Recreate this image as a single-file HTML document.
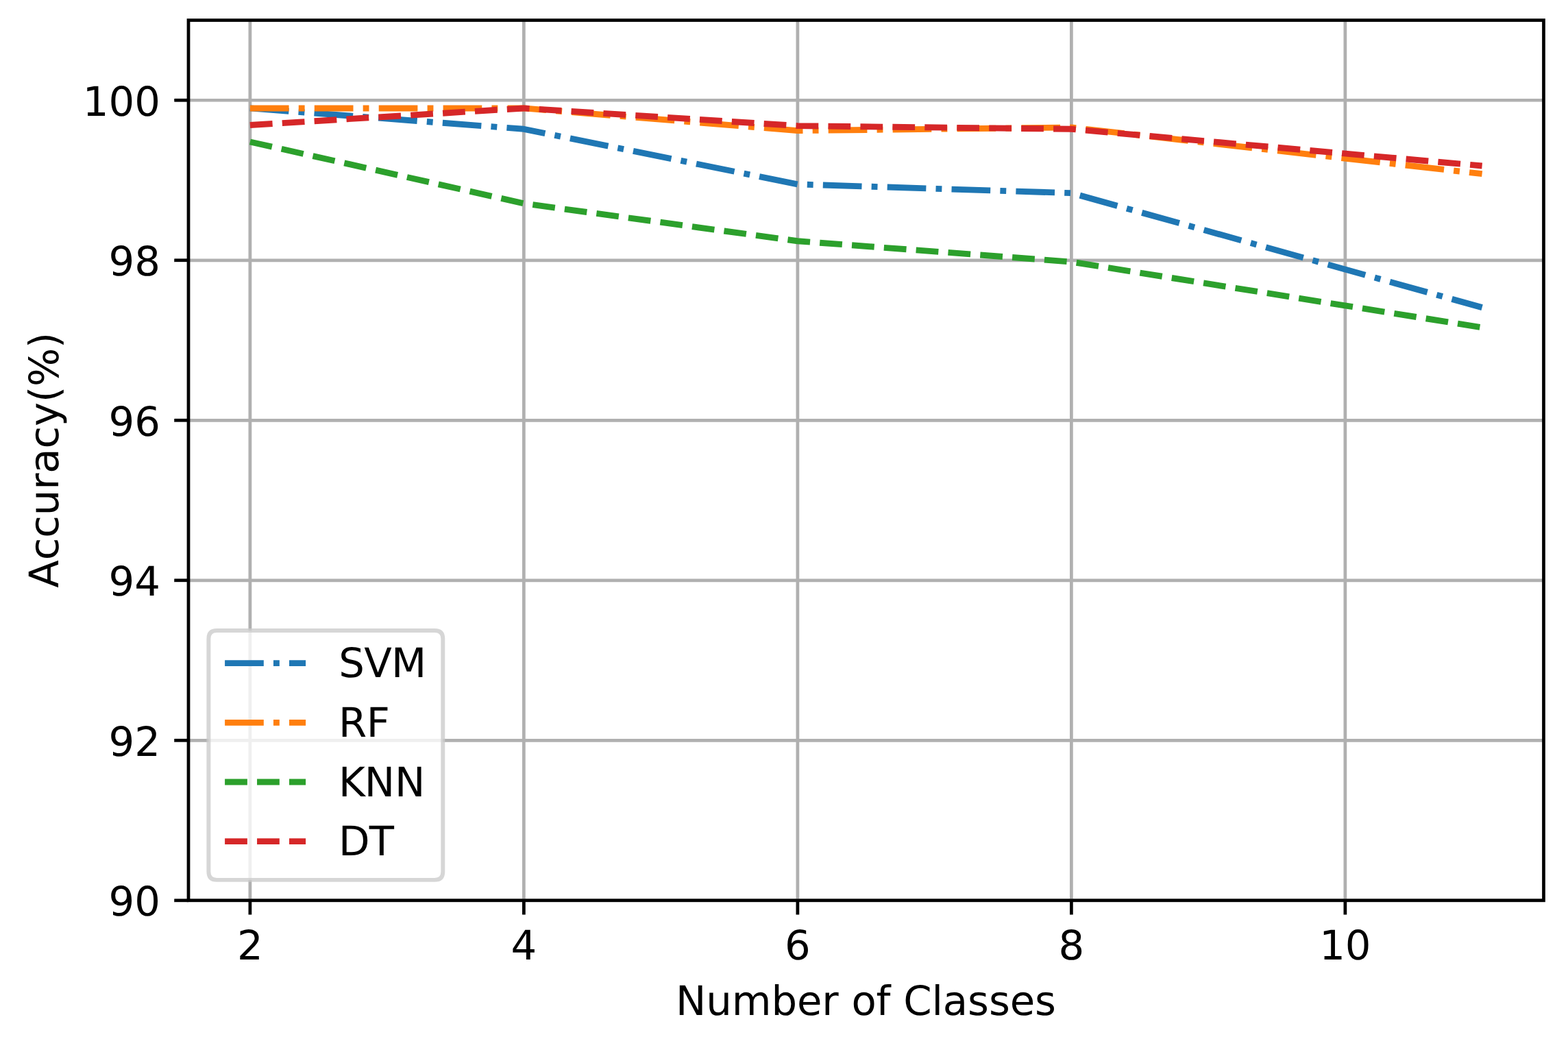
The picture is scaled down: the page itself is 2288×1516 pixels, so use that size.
<!DOCTYPE html>
<html lang="en"><head><meta charset="utf-8"><title>Accuracy vs Number of Classes</title>
<style>
html,body{margin:0;padding:0;background:#fff;}
body{width:2288px;height:1516px;overflow:hidden;}
svg{display:block;}
text{font-family:"DejaVu Sans","Liberation Sans",sans-serif;font-size:59.3px;fill:#000;font-kerning:none;text-rendering:geometricPrecision;}
</style></head><body>
<svg width="2288" height="1516" viewBox="0 0 2288 1516">
<rect x="0" y="0" width="2288" height="1516" fill="#ffffff"/>
<defs><clipPath id="axclip"><rect x="275.00" y="29.50" width="1977.50" height="1284.30"/></clipPath></defs>
<g stroke="#b0b0b0" stroke-width="4.744" fill="none" clip-path="url(#axclip)">
<line x1="364.89" y1="29.50" x2="364.89" y2="1313.80"/>
<line x1="764.38" y1="29.50" x2="764.38" y2="1313.80"/>
<line x1="1163.88" y1="29.50" x2="1163.88" y2="1313.80"/>
<line x1="1563.37" y1="29.50" x2="1563.37" y2="1313.80"/>
<line x1="1962.87" y1="29.50" x2="1962.87" y2="1313.80"/>
<line x1="275.00" y1="1313.80" x2="2252.50" y2="1313.80"/>
<line x1="275.00" y1="1080.29" x2="2252.50" y2="1080.29"/>
<line x1="275.00" y1="846.78" x2="2252.50" y2="846.78"/>
<line x1="275.00" y1="613.27" x2="2252.50" y2="613.27"/>
<line x1="275.00" y1="379.76" x2="2252.50" y2="379.76"/>
<line x1="275.00" y1="146.25" x2="2252.50" y2="146.25"/>
</g>
<g stroke="#000" stroke-width="4.744" fill="none">
<line x1="364.89" y1="1313.80" x2="364.89" y2="1334.56"/>
<line x1="764.38" y1="1313.80" x2="764.38" y2="1334.56"/>
<line x1="1163.88" y1="1313.80" x2="1163.88" y2="1334.56"/>
<line x1="1563.37" y1="1313.80" x2="1563.37" y2="1334.56"/>
<line x1="1962.87" y1="1313.80" x2="1962.87" y2="1334.56"/>
<line x1="254.25" y1="1313.80" x2="275.00" y2="1313.80"/>
<line x1="254.25" y1="1080.29" x2="275.00" y2="1080.29"/>
<line x1="254.25" y1="846.78" x2="275.00" y2="846.78"/>
<line x1="254.25" y1="613.27" x2="275.00" y2="613.27"/>
<line x1="254.25" y1="379.76" x2="275.00" y2="379.76"/>
<line x1="254.25" y1="146.25" x2="275.00" y2="146.25"/>
</g>
<g text-anchor="middle">
<text x="364.89" y="1399.70">2</text>
<text x="764.38" y="1399.70">4</text>
<text x="1163.88" y="1399.70">6</text>
<text x="1563.37" y="1399.70">8</text>
<text x="1962.87" y="1399.70">10</text>
</g>
<g text-anchor="end">
<text x="234.00" y="1336.40">90</text>
<text x="234.00" y="1102.89">92</text>
<text x="234.00" y="869.38">94</text>
<text x="234.00" y="635.87">96</text>
<text x="234.00" y="402.36">98</text>
<text x="234.00" y="168.85">100</text>
</g>
<text x="1263.50" y="1481.30" text-anchor="middle" textLength="555.00" lengthAdjust="spacing">Number of Classes</text>
<text transform="translate(85.00 671.20) rotate(-90)" text-anchor="middle" textLength="372.90" lengthAdjust="spacing">Accuracy(%)</text>
<g fill="none" stroke-width="8.895" stroke-linejoin="round" stroke-linecap="butt" clip-path="url(#axclip)">
<polyline points="364.89,157.93 764.38,188.29 1163.88,268.85 1563.37,281.69 2162.61,448.65" stroke="#1f77b4" stroke-dasharray="56.698,14.174,8.859,14.174"/>
<polyline points="364.89,157.93 764.38,157.93 1163.88,190.62 1563.37,185.95 2162.61,253.67" stroke="#ff7f0e" stroke-dasharray="56.698,14.174,8.859,14.174"/>
<polyline points="364.89,206.97 764.38,296.87 1163.88,351.74 1563.37,382.10 2162.61,477.84" stroke="#2ca02c" stroke-dasharray="32.778,14.174"/>
<polyline points="364.89,182.45 764.38,157.93 1163.88,183.62 1563.37,188.29 2162.61,241.99" stroke="#d62728" stroke-dasharray="32.778,14.174"/>
</g>
<rect x="275.00" y="29.50" width="1977.50" height="1284.30" fill="none" stroke="#000" stroke-width="4.744" stroke-linejoin="miter"/>
<path d="M316.26,1283.90 L634.44,1283.90 Q646.30,1283.90 646.30,1272.04 L646.30,931.86 Q646.30,920.00 634.44,920.00 L316.26,920.00 Q304.40,920.00 304.40,931.86 L304.40,1272.04 Q304.40,1283.90 316.26,1283.90 Z" fill="#ffffff" fill-opacity="0.8" stroke="#cccccc" stroke-opacity="0.8" stroke-width="5.930" stroke-linejoin="miter"/>
<g fill="none" stroke-width="8.895" stroke-linecap="butt">
<line x1="328.10" y1="967.60" x2="446.10" y2="967.60" stroke="#1f77b4" stroke-dasharray="56.698,14.174,8.859,14.174"/>
<line x1="328.10" y1="1054.40" x2="446.10" y2="1054.40" stroke="#ff7f0e" stroke-dasharray="56.698,14.174,8.859,14.174"/>
<line x1="328.10" y1="1141.00" x2="446.10" y2="1141.00" stroke="#2ca02c" stroke-dasharray="32.778,14.174"/>
<line x1="328.10" y1="1227.60" x2="446.10" y2="1227.60" stroke="#d62728" stroke-dasharray="32.778,14.174"/>
</g>
<g text-anchor="start">
<text x="494.30 531.17 570.96" y="988.10">SVM</text>
<text x="494.00 534.82" y="1074.90">RF</text>
<text x="494.00 531.66 575.98" y="1161.50">KNN</text>
<text x="494.00 538.82" y="1248.10">DT</text>
</g>
</svg>
</body></html>
